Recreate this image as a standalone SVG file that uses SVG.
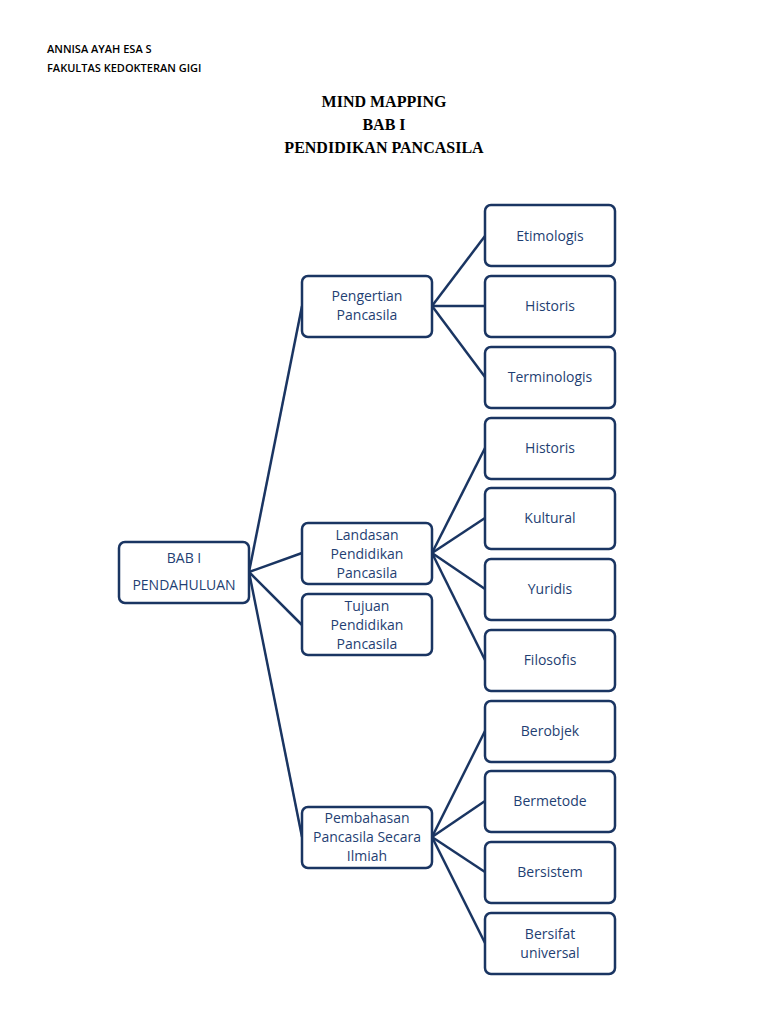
<svg xmlns="http://www.w3.org/2000/svg" width="768" height="1024" viewBox="0 0 768 1024">
<style>
.b{fill:#fff;stroke:#1a3562;stroke-width:2.5}
.t{font-family:"Open Sans","Liberation Sans",sans-serif;font-size:14px;fill:#1f3f73;text-anchor:middle}
.h{font-family:"Liberation Serif",serif;font-size:16px;font-weight:bold;text-anchor:middle;fill:#000}
.a{font-family:"Open Sans","Liberation Sans",sans-serif;font-size:11px;font-weight:600;fill:#000}
#c line{stroke:#1a3562;stroke-width:2.5}
</style>
<rect width="768" height="1024" fill="#fff"/>
<text class="a" x="47" y="53">ANNISA AYAH ESA S</text>
<text class="a" x="47" y="72">FAKULTAS KEDOKTERAN GIGI</text>
<text class="h" x="384" y="107">MIND MAPPING</text>
<text class="h" x="384" y="130">BAB I</text>
<text class="h" x="384" y="153">PENDIDIKAN PANCASILA</text>
<g id="c">
<line x1="249" y1="572" x2="302" y2="306"/>
<line x1="249" y1="572" x2="302" y2="553"/>
<line x1="249" y1="572" x2="302" y2="625"/>
<line x1="249" y1="572" x2="302" y2="837"/>
<line x1="432" y1="306" x2="485" y2="236"/>
<line x1="432" y1="306" x2="485" y2="306"/>
<line x1="432" y1="306" x2="485" y2="377"/>
<line x1="432" y1="553" x2="485" y2="448"/>
<line x1="432" y1="553" x2="485" y2="518"/>
<line x1="432" y1="553" x2="485" y2="589"/>
<line x1="432" y1="553" x2="485" y2="660"/>
<line x1="432" y1="837" x2="485" y2="731"/>
<line x1="432" y1="837" x2="485" y2="801"/>
<line x1="432" y1="837" x2="485" y2="872"/>
<line x1="432" y1="837" x2="485" y2="943"/>
</g>
<g id="root"><rect class="b" x="119" y="542" width="130" height="61" rx="6"/><text class="t" x="184" y="563">BAB I</text><text class="t" x="184" y="590">PENDAHULUAN</text></g>
<g id="m1"><rect class="b" x="302" y="276" width="130" height="61" rx="6"/><text class="t" x="367" y="301">Pengertian</text><text class="t" x="367" y="320">Pancasila</text></g>
<g id="m2"><rect class="b" x="302" y="523" width="130" height="61" rx="6"/><text class="t" x="367" y="540">Landasan</text><text class="t" x="367" y="559">Pendidikan</text><text class="t" x="367" y="578">Pancasila</text></g>
<g id="m3"><rect class="b" x="302" y="594" width="130" height="61" rx="6"/><text class="t" x="367" y="611">Tujuan</text><text class="t" x="367" y="630">Pendidikan</text><text class="t" x="367" y="649">Pancasila</text></g>
<g id="m4"><rect class="b" x="302" y="807" width="130" height="61" rx="6"/><text class="t" x="367" y="823">Pembahasan</text><text class="t" x="367" y="842">Pancasila Secara</text><text class="t" x="367" y="861">Ilmiah</text></g>
<g id="l1"><rect class="b" x="485" y="205" width="130" height="61" rx="6"/><text class="t" x="550" y="241">Etimologis</text></g>
<g id="l2"><rect class="b" x="485" y="276" width="130" height="61" rx="6"/><text class="t" x="550" y="311">Historis</text></g>
<g id="l3"><rect class="b" x="485" y="347" width="130" height="61" rx="6"/><text class="t" x="550" y="382">Terminologis</text></g>
<g id="l4"><rect class="b" x="485" y="418" width="130" height="61" rx="6"/><text class="t" x="550" y="453">Historis</text></g>
<g id="l5"><rect class="b" x="485" y="488" width="130" height="61" rx="6"/><text class="t" x="550" y="523">Kultural</text></g>
<g id="l6"><rect class="b" x="485" y="559" width="130" height="61" rx="6"/><text class="t" x="550" y="594">Yuridis</text></g>
<g id="l7"><rect class="b" x="485" y="630" width="130" height="61" rx="6"/><text class="t" x="550" y="665">Filosofis</text></g>
<g id="l8"><rect class="b" x="485" y="701" width="130" height="61" rx="6"/><text class="t" x="550" y="736">Berobjek</text></g>
<g id="l9"><rect class="b" x="485" y="771" width="130" height="61" rx="6"/><text class="t" x="550" y="806">Bermetode</text></g>
<g id="l10"><rect class="b" x="485" y="842" width="130" height="61" rx="6"/><text class="t" x="550" y="877">Bersistem</text></g>
<g id="l11"><rect class="b" x="485" y="913" width="130" height="61" rx="6"/><text class="t" x="550" y="939">Bersifat</text><text class="t" x="550" y="958">universal</text></g>
</svg>
